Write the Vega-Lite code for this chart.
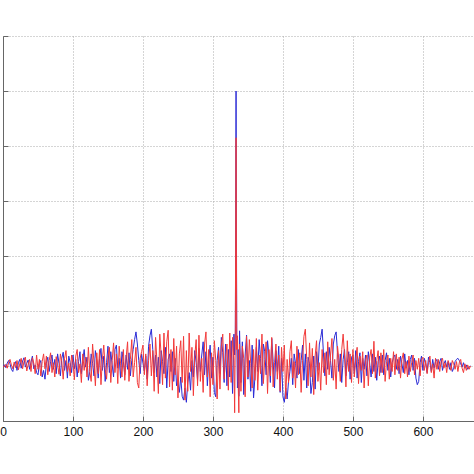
{
"$schema": "https://vega.github.io/schema/vega-lite/v6.json",
"width": 471, "height": 385,
"autosize": {"type": "none"},
"padding": {"left": 3, "top": 36, "right": 0, "bottom": 53},
"background": "white",
"config": {"view": {"stroke": null}},
"data": {"values": [
{"x":0,"b":0.00,"r":0.01},{"x":2,"b":0.02,"r":-0.02},{"x":4,"b":-0.03,"r":0.03},{"x":6,"b":0.05,"r":-0.04},{"x":8,"b":0.10,"r":0.06},{"x":10,"b":0.04,"r":0.12},{"x":12,"b":-0.06,"r":0.02},{"x":14,"b":-0.10,"r":-0.05},{"x":16,"b":0.03,"r":0.07},{"x":18,"b":0.08,"r":-0.03},
{"x":20,"b":-0.08,"r":0.10},{"x":22,"b":0.06,"r":-0.07},{"x":24,"b":0.12,"r":0.04},{"x":26,"b":-0.04,"r":0.14},{"x":28,"b":0.09,"r":-0.05},{"x":30,"b":0.15,"r":0.08},{"x":32,"b":-0.02,"r":0.16},{"x":34,"b":0.05,"r":-0.09},{"x":36,"b":0.11,"r":0.03},{"x":38,"b":-0.06,"r":0.12},
{"x":40,"b":0.07,"r":-0.10},{"x":42,"b":0.18,"r":0.15},{"x":44,"b":-0.05,"r":0.05},{"x":46,"b":0.02,"r":-0.14},{"x":48,"b":-0.12,"r":0.20},{"x":50,"b":-0.16,"r":-0.06},{"x":52,"b":0.04,"r":0.12},{"x":54,"b":0.10,"r":-0.18},{"x":56,"b":-0.20,"r":0.08},{"x":58,"b":-0.08,"r":0.22},
{"x":60,"b":-0.24,"r":-0.05},{"x":62,"b":0.05,"r":0.18},{"x":64,"b":0.16,"r":-0.16},{"x":66,"b":-0.10,"r":0.10},{"x":68,"b":0.08,"r":0.24},{"x":70,"b":0.20,"r":-0.12},{"x":72,"b":-0.06,"r":0.06},{"x":74,"b":0.12,"r":-0.20},{"x":76,"b":-0.14,"r":0.17},{"x":78,"b":0.22,"r":0.02},
{"x":80,"b":0.05,"r":-0.15},{"x":82,"b":-0.18,"r":0.22},{"x":84,"b":0.14,"r":0.08},{"x":86,"b":0.25,"r":-0.24},{"x":88,"b":-0.08,"r":0.14},{"x":90,"b":0.10,"r":0.28},{"x":92,"b":-0.22,"r":-0.10},{"x":94,"b":0.18,"r":0.05},{"x":96,"b":0.06,"r":-0.18},{"x":98,"b":-0.12,"r":0.20},
{"x":100,"b":0.20,"r":0.06},{"x":102,"b":-0.05,"r":-0.25},{"x":104,"b":0.12,"r":0.18},{"x":106,"b":-0.20,"r":0.30},{"x":108,"b":0.08,"r":-0.12},{"x":110,"b":0.26,"r":0.04},{"x":112,"b":-0.14,"r":-0.30},{"x":114,"b":0.10,"r":0.22},{"x":116,"b":0.30,"r":-0.08},{"x":118,"b":-0.02,"r":0.16},
{"x":120,"b":0.16,"r":-0.20},{"x":122,"b":-0.26,"r":0.34},{"x":124,"b":-0.10,"r":-0.10},{"x":126,"b":0.22,"r":-0.28},{"x":128,"b":0.05,"r":0.40},{"x":130,"b":-0.18,"r":0.06},{"x":132,"b":0.28,"r":-0.36},{"x":134,"b":0.10,"r":0.24},{"x":136,"b":-0.22,"r":-0.14},{"x":138,"b":0.14,"r":0.30},
{"x":140,"b":0.32,"r":-0.34},{"x":142,"b":-0.08,"r":0.12},{"x":144,"b":0.18,"r":0.38},{"x":146,"b":-0.28,"r":-0.06},{"x":148,"b":0.06,"r":-0.24},{"x":150,"b":0.36,"r":0.18},{"x":152,"b":-0.12,"r":0.34},{"x":154,"b":0.26,"r":-0.30},{"x":156,"b":0.02,"r":0.10},{"x":158,"b":-0.20,"r":0.42},
{"x":160,"b":0.30,"r":-0.12},{"x":162,"b":0.38,"r":0.22},{"x":164,"b":-0.04,"r":-0.32},{"x":166,"b":0.14,"r":0.36},{"x":168,"b":-0.22,"r":0.04},{"x":170,"b":0.26,"r":-0.20},{"x":172,"b":0.08,"r":0.30},{"x":174,"b":-0.16,"r":-0.26},{"x":176,"b":0.20,"r":0.16},{"x":178,"b":-0.06,"r":0.44},
{"x":180,"b":0.24,"r":-0.28},{"x":182,"b":-0.18,"r":0.12},{"x":184,"b":0.10,"r":0.48},{"x":186,"b":0.30,"r":-0.20},{"x":188,"b":0.48,"r":0.06},{"x":190,"b":0.62,"r":0.34},{"x":192,"b":0.40,"r":-0.30},{"x":194,"b":0.10,"r":-0.40},{"x":196,"b":-0.14,"r":0.14},{"x":198,"b":0.22,"r":0.26},
{"x":200,"b":0.05,"r":0.38},{"x":202,"b":-0.10,"r":-0.16},{"x":204,"b":0.18,"r":0.22},{"x":206,"b":-0.24,"r":-0.36},{"x":208,"b":0.36,"r":0.10},{"x":210,"b":0.55,"r":0.40},{"x":212,"b":0.67,"r":-0.18},{"x":214,"b":0.30,"r":0.28},{"x":216,"b":-0.12,"r":-0.46},{"x":218,"b":0.20,"r":0.52},
{"x":220,"b":-0.20,"r":0.08},{"x":222,"b":0.16,"r":-0.50},{"x":224,"b":-0.32,"r":0.58},{"x":226,"b":0.28,"r":0.20},{"x":228,"b":0.08,"r":-0.34},{"x":230,"b":-0.14,"r":0.60},{"x":232,"b":0.34,"r":-0.22},{"x":234,"b":-0.40,"r":0.44},{"x":236,"b":0.12,"r":0.65},{"x":238,"b":0.22,"r":-0.38},
{"x":240,"b":-0.10,"r":0.30},{"x":242,"b":0.26,"r":-0.44},{"x":244,"b":-0.28,"r":0.50},{"x":246,"b":0.14,"r":-0.16},{"x":248,"b":-0.36,"r":0.36},{"x":250,"b":-0.30,"r":-0.58},{"x":252,"b":-0.48,"r":0.22},{"x":254,"b":-0.20,"r":0.46},{"x":256,"b":-0.55,"r":-0.30},{"x":258,"b":-0.62,"r":0.54},
{"x":260,"b":-0.40,"r":-0.62},{"x":262,"b":-0.66,"r":0.28},{"x":264,"b":-0.30,"r":-0.46},{"x":266,"b":-0.12,"r":0.60},{"x":268,"b":-0.44,"r":-0.10},{"x":270,"b":0.10,"r":0.34},{"x":272,"b":-0.20,"r":-0.54},{"x":274,"b":0.28,"r":0.18},{"x":276,"b":0.06,"r":0.48},{"x":278,"b":-0.26,"r":-0.36},
{"x":280,"b":0.32,"r":0.56},{"x":282,"b":-0.10,"r":-0.28},{"x":284,"b":0.20,"r":0.14},{"x":286,"b":0.44,"r":-0.48},{"x":288,"b":-0.16,"r":0.40},{"x":290,"b":0.26,"r":0.62},{"x":292,"b":-0.36,"r":-0.20},{"x":294,"b":0.12,"r":0.30},{"x":296,"b":0.38,"r":-0.56},{"x":298,"b":-0.22,"r":0.24},
{"x":300,"b":0.16,"r":-0.34},{"x":302,"b":-0.48,"r":0.46},{"x":304,"b":-0.56,"r":0.10},{"x":306,"b":0.10,"r":-0.60},{"x":308,"b":0.34,"r":0.28},{"x":310,"b":-0.14,"r":-0.42},{"x":312,"b":0.52,"r":0.36},{"x":314,"b":0.24,"r":0.58},{"x":316,"b":-0.30,"r":-0.24},{"x":318,"b":0.40,"r":0.14},
{"x":320,"b":-0.36,"r":0.40},{"x":322,"b":0.30,"r":-0.44},{"x":324,"b":-0.20,"r":0.60},{"x":326,"b":0.46,"r":-0.30},{"x":328,"b":-0.50,"r":0.52},{"x":330,"b":0.58,"r":0.10},{"x":331,"b":0.20,"r":-0.85},{"x":332,"b":0.60,"r":0.70},{"x":333,"b":5.00,"r":4.15},{"x":334,"b":0.50,"r":0.30},{"x":335,"b":-0.40,"r":0.55},{"x":336,"b":0.30,"r":-0.30},{"x":337,"b":-0.55,"r":-0.85},{"x":338,"b":0.64,"r":0.40},
{"x":340,"b":-0.30,"r":-0.46},{"x":342,"b":0.44,"r":0.36},{"x":344,"b":-0.52,"r":0.14},{"x":346,"b":0.20,"r":-0.56},{"x":348,"b":0.56,"r":0.54},{"x":350,"b":-0.24,"r":-0.20},{"x":352,"b":0.10,"r":0.48},{"x":354,"b":-0.46,"r":0.04},{"x":356,"b":0.38,"r":-0.40},{"x":358,"b":-0.58,"r":0.30},
{"x":360,"b":-0.20,"r":-0.26},{"x":362,"b":0.34,"r":0.50},{"x":364,"b":-0.10,"r":-0.44},{"x":366,"b":0.48,"r":0.20},{"x":368,"b":0.14,"r":-0.14},{"x":370,"b":-0.36,"r":0.58},{"x":372,"b":0.40,"r":-0.32},{"x":374,"b":0.26,"r":0.12},{"x":376,"b":-0.16,"r":0.44},{"x":378,"b":0.46,"r":-0.50},
{"x":380,"b":0.20,"r":0.30},{"x":382,"b":-0.30,"r":-0.18},{"x":384,"b":0.50,"r":0.52},{"x":386,"b":0.08,"r":-0.38},{"x":388,"b":-0.40,"r":0.06},{"x":390,"b":0.28,"r":0.40},{"x":392,"b":-0.10,"r":-0.24},{"x":394,"b":0.36,"r":0.20},{"x":396,"b":-0.48,"r":-0.46},{"x":398,"b":0.14,"r":0.34},
{"x":400,"b":-0.56,"r":-0.10},{"x":402,"b":-0.66,"r":0.38},{"x":404,"b":-0.40,"r":-0.60},{"x":406,"b":-0.60,"r":0.12},{"x":408,"b":-0.28,"r":-0.30},{"x":410,"b":-0.10,"r":0.26},{"x":412,"b":0.14,"r":0.46},{"x":414,"b":-0.34,"r":-0.22},{"x":416,"b":0.22,"r":0.08},{"x":418,"b":0.05,"r":-0.40},
{"x":420,"b":-0.22,"r":0.36},{"x":422,"b":0.30,"r":-0.16},{"x":424,"b":-0.14,"r":0.24},{"x":426,"b":0.10,"r":-0.48},{"x":428,"b":0.38,"r":0.10},{"x":430,"b":-0.26,"r":0.54},{"x":432,"b":0.22,"r":0.67},{"x":434,"b":-0.40,"r":0.12},{"x":436,"b":0.16,"r":-0.36},{"x":438,"b":0.04,"r":0.42},
{"x":440,"b":-0.50,"r":-0.20},{"x":442,"b":-0.30,"r":0.32},{"x":444,"b":0.18,"r":-0.52},{"x":446,"b":-0.42,"r":0.18},{"x":448,"b":0.26,"r":0.46},{"x":450,"b":-0.08,"r":-0.28},{"x":452,"b":0.40,"r":0.06},{"x":454,"b":0.52,"r":-0.44},{"x":456,"b":0.67,"r":0.30},{"x":458,"b":0.20,"r":-0.12},
{"x":460,"b":-0.18,"r":0.24},{"x":462,"b":0.26,"r":-0.34},{"x":464,"b":-0.06,"r":0.44},{"x":466,"b":0.34,"r":-0.16},{"x":468,"b":0.10,"r":0.20},{"x":470,"b":-0.22,"r":0.50},{"x":472,"b":0.40,"r":-0.26},{"x":474,"b":0.55,"r":0.12},{"x":476,"b":0.62,"r":-0.42},{"x":478,"b":0.24,"r":0.36},
{"x":480,"b":-0.10,"r":0.10},{"x":482,"b":0.22,"r":-0.28},{"x":484,"b":-0.30,"r":0.30},{"x":486,"b":0.12,"r":0.58},{"x":488,"b":0.30,"r":0.20},{"x":490,"b":-0.18,"r":-0.38},{"x":492,"b":0.06,"r":0.46},{"x":494,"b":0.26,"r":-0.10},{"x":496,"b":-0.24,"r":0.22},{"x":498,"b":0.16,"r":-0.30},
{"x":500,"b":0.20,"r":0.30},{"x":502,"b":-0.14,"r":-0.20},{"x":504,"b":0.28,"r":0.12},{"x":506,"b":-0.22,"r":0.34},{"x":508,"b":0.08,"r":-0.32},{"x":510,"b":0.24,"r":0.18},{"x":512,"b":-0.30,"r":-0.08},{"x":514,"b":0.14,"r":0.26},{"x":516,"b":-0.06,"r":-0.40},{"x":518,"b":0.20,"r":0.10},
{"x":520,"b":-0.18,"r":0.20},{"x":522,"b":0.26,"r":-0.36},{"x":524,"b":0.04,"r":0.16},{"x":526,"b":-0.20,"r":0.30},{"x":528,"b":0.22,"r":-0.14},{"x":530,"b":-0.10,"r":0.45},{"x":532,"b":0.16,"r":-0.22},{"x":534,"b":-0.26,"r":0.10},{"x":536,"b":0.08,"r":0.28},{"x":538,"b":0.18,"r":-0.18},
{"x":540,"b":-0.12,"r":0.24},{"x":542,"b":0.20,"r":-0.12},{"x":544,"b":-0.16,"r":0.30},{"x":546,"b":0.10,"r":-0.28},{"x":548,"b":0.24,"r":0.08},{"x":550,"b":-0.08,"r":0.20},{"x":552,"b":0.14,"r":-0.24},{"x":554,"b":-0.20,"r":0.14},{"x":556,"b":0.06,"r":-0.10},{"x":558,"b":0.16,"r":0.26},
{"x":560,"b":0.20,"r":-0.16},{"x":562,"b":-0.06,"r":0.22},{"x":564,"b":0.12,"r":-0.08},{"x":566,"b":-0.14,"r":0.16},{"x":568,"b":0.18,"r":-0.22},{"x":570,"b":0.04,"r":0.12},{"x":572,"b":-0.12,"r":0.24},{"x":574,"b":0.22,"r":-0.14},{"x":576,"b":-0.04,"r":0.08},{"x":578,"b":0.10,"r":-0.20},
{"x":580,"b":-0.16,"r":0.18},{"x":582,"b":0.12,"r":-0.10},{"x":584,"b":0.20,"r":0.06},{"x":586,"b":-0.08,"r":0.20},{"x":588,"b":0.14,"r":-0.16},{"x":590,"b":-0.22,"r":0.10},{"x":592,"b":-0.34,"r":-0.06},{"x":594,"b":-0.28,"r":0.14},{"x":596,"b":0.06,"r":-0.18},{"x":598,"b":0.18,"r":0.12},
{"x":600,"b":-0.08,"r":0.16},{"x":602,"b":0.14,"r":-0.08},{"x":604,"b":0.04,"r":0.10},{"x":606,"b":-0.12,"r":-0.14},{"x":608,"b":0.16,"r":0.06},{"x":610,"b":0.06,"r":0.18},{"x":612,"b":-0.10,"r":-0.12},{"x":614,"b":0.12,"r":0.04},{"x":616,"b":-0.04,"r":-0.22},{"x":618,"b":0.08,"r":0.14},
{"x":620,"b":0.12,"r":-0.06},{"x":622,"b":-0.06,"r":0.12},{"x":624,"b":0.08,"r":-0.10},{"x":626,"b":0.14,"r":0.08},{"x":628,"b":-0.08,"r":0.14},{"x":630,"b":0.04,"r":-0.04},{"x":632,"b":0.10,"r":0.06},{"x":634,"b":-0.02,"r":-0.12},{"x":636,"b":0.08,"r":0.10},{"x":638,"b":-0.06,"r":0.02},
{"x":640,"b":0.06,"r":-0.08},{"x":642,"b":-0.10,"r":0.10},{"x":644,"b":-0.04,"r":0.04},{"x":646,"b":0.08,"r":-0.06},{"x":648,"b":0.12,"r":0.08},{"x":650,"b":0.14,"r":-0.10},{"x":652,"b":0.10,"r":0.06},{"x":654,"b":0.04,"r":0.12},{"x":656,"b":-0.02,"r":-0.04},{"x":658,"b":0.06,"r":-0.12},
{"x":660,"b":-0.04,"r":0.04},{"x":662,"b":0.02,"r":-0.08},{"x":664,"b":-0.06,"r":0.02},{"x":666,"b":-0.02,"r":-0.06},{"x":668,"b":0.00,"r":0.00}
]},
"transform": [{"fold": ["b", "r"], "as": ["series", "value"]}],
"mark": {"type": "line", "strokeWidth": 1, "clip": true, "interpolate": "linear"},
"encoding": {
  "x": {"field": "x", "type": "quantitative",
        "scale": {"domain": [0, 673], "nice": false, "zero": false},
        "axis": {"values": [0,100,200,300,400,500,600], "title": null, "grid": true,
                 "gridDash": [1,2], "gridColor": "#aaaaaa", "gridOpacity": 1,
                 "domainColor": "#666666", "tickColor": "#666666", "tickSize": -5,
                 "labelFont": "Liberation Sans", "labelFontSize": 12, "labelColor": "#111111",
                 "labelPadding": 10, "labelFlush": false}},
  "y": {"field": "value", "type": "quantitative",
        "scale": {"domain": [-1, 6], "nice": false, "zero": false},
        "axis": {"values": [-1,0,1,2,3,4,5,6], "title": null, "grid": true, "labels": false,
                 "gridDash": [1,2], "gridColor": "#aaaaaa", "gridOpacity": 1,
                 "domainColor": "#666666", "tickColor": "#666666", "tickSize": -5}},
  "color": {"field": "series", "type": "nominal",
            "scale": {"domain": ["b", "r"], "range": ["#2b2bd6", "#f23a3a"]},
            "legend": null}
}
}
